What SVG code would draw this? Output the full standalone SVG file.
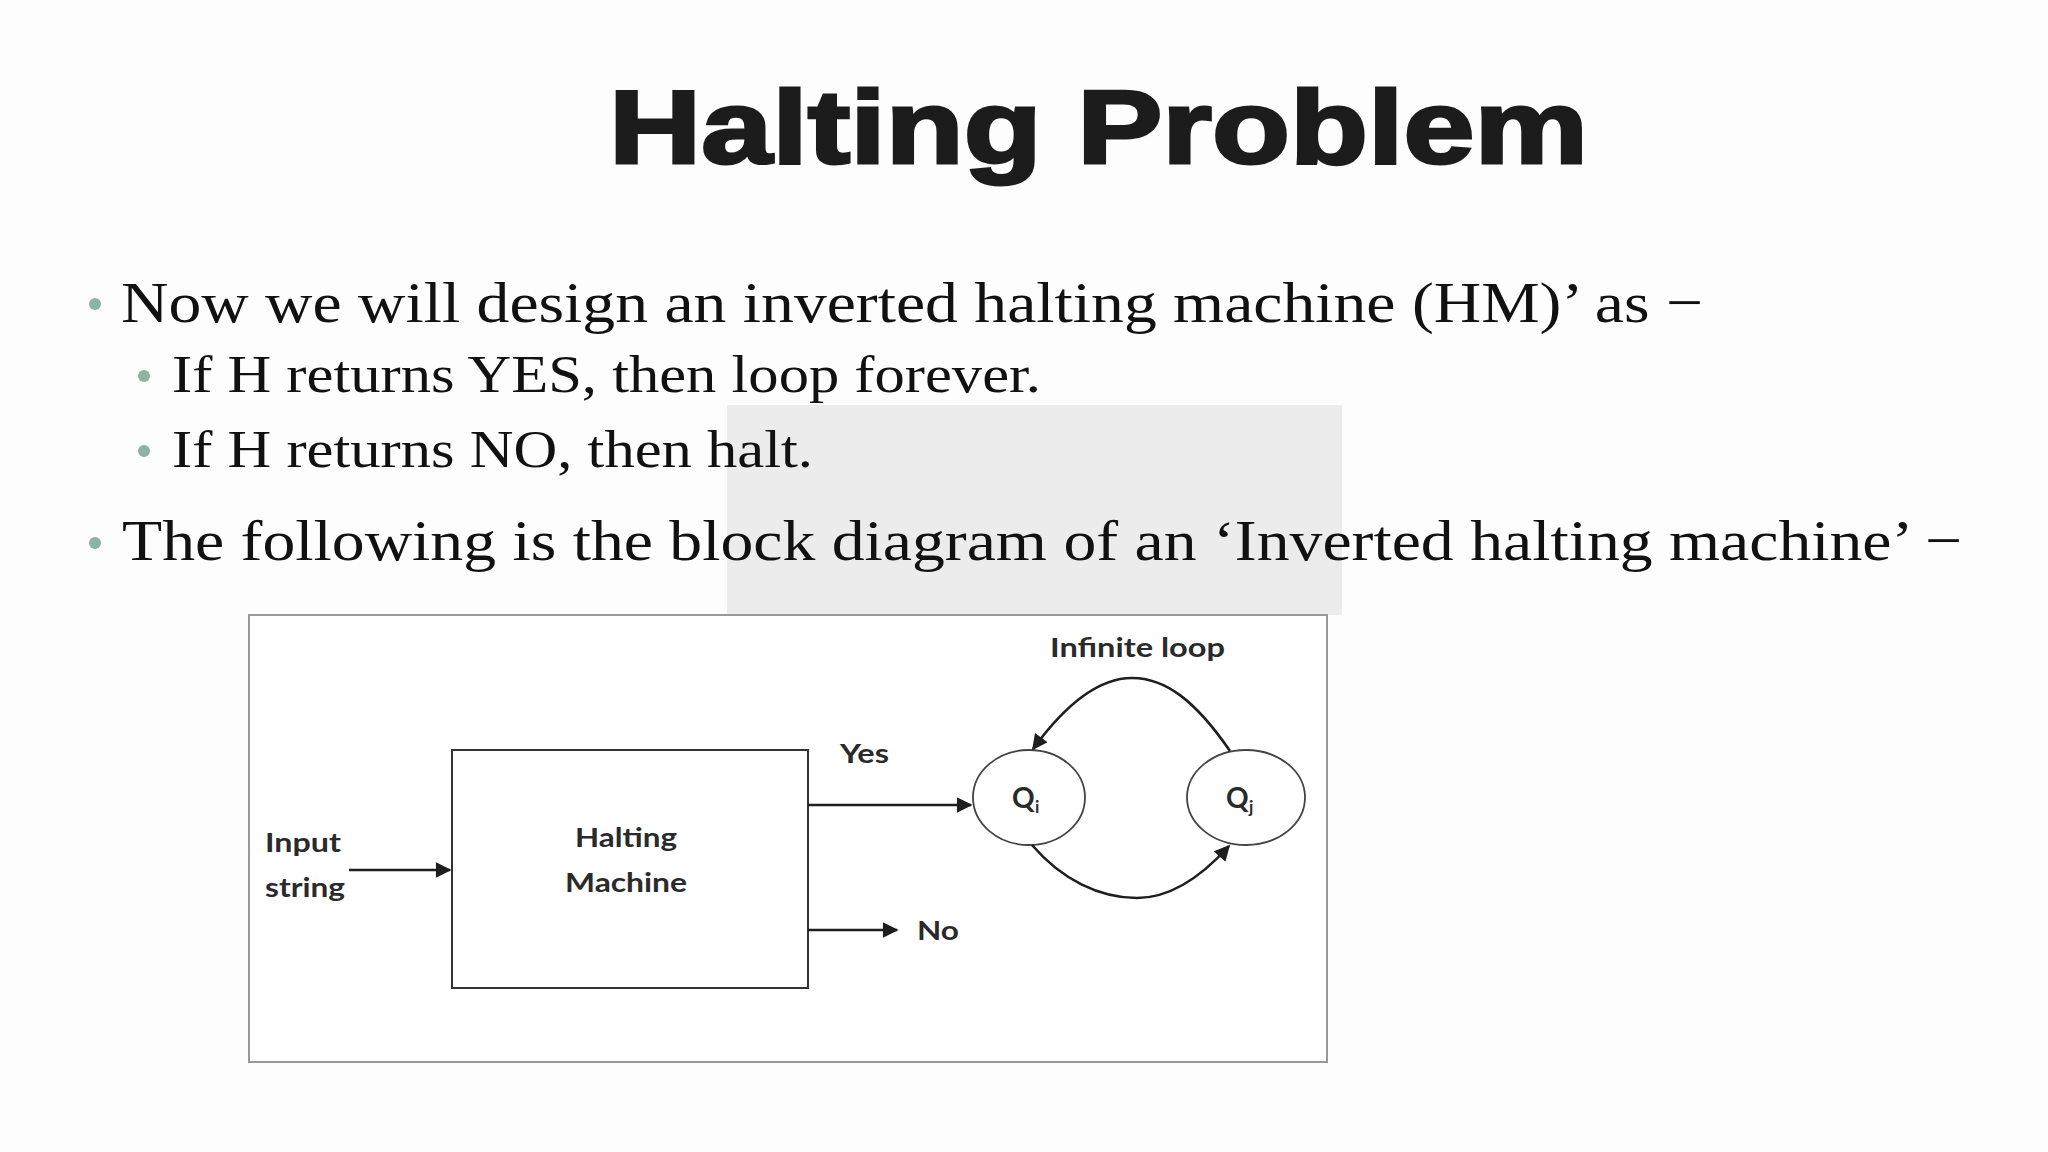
<svg xmlns="http://www.w3.org/2000/svg" width="2048" height="1152" viewBox="0 0 2048 1152">
<style>
.title{font-family:"Liberation Sans",Arial,sans-serif;font-weight:bold;font-size:103px;fill:#1c1c1c;stroke:#1c1c1c;stroke-width:3px}
.b1{font-family:"Liberation Serif","Times New Roman",serif;font-size:58px;fill:#111}
.b2{font-family:"Liberation Serif","Times New Roman",serif;font-size:53px;fill:#111}
.dot{fill:#8fb3a3}
.lbl{font-family:Lato,"Open Sans","Liberation Sans",sans-serif;font-weight:bold;font-size:26px;fill:#2a2a2a}
.q{font-family:Lato,"Open Sans","Liberation Sans",sans-serif;font-weight:bold;font-size:28px;fill:#2a2a2a}
.sub{font-family:Lato,"Open Sans","Liberation Sans",sans-serif;font-weight:bold;font-size:17px;fill:#2a2a2a}
.box{fill:#fff;stroke:#333;stroke-width:2}
.node{fill:#fff;stroke:#444;stroke-width:1.8}
.conn{fill:none;stroke:#1e1e1e;stroke-width:2.6}
</style>
<defs>
<marker id="ah" viewBox="0 0 10 10" refX="9" refY="5" markerWidth="6.5" markerHeight="6" orient="auto" markerUnits="strokeWidth">
<path d="M0,0 L10,5 L0,10 z" fill="#1e1e1e"/>
</marker>
</defs>
<rect x="0" y="0" width="2048" height="1152" fill="#fdfdfd"/>
<rect x="727" y="405" width="615" height="210" fill="#ececec"/>

<g id="title">
<text class="title" x="609" y="163" textLength="979" lengthAdjust="spacingAndGlyphs">Halting Problem</text>
</g>

<g id="bullets">
<circle class="dot" cx="95" cy="304" r="6"/>
<text class="b1" x="121" y="322" textLength="1582" lengthAdjust="spacingAndGlyphs">Now we will design an inverted halting machine (HM)’ as −</text>
<circle class="dot" cx="144" cy="376" r="6"/>
<text class="b2" x="172" y="392" textLength="869" lengthAdjust="spacingAndGlyphs">If H returns YES, then loop forever.</text>
<circle class="dot" cx="144" cy="451" r="6"/>
<text class="b2" x="172" y="467" textLength="641" lengthAdjust="spacingAndGlyphs">If H returns NO, then halt.</text>
<circle class="dot" cx="95" cy="543" r="6"/>
<text class="b1" x="122" y="560" textLength="1840" lengthAdjust="spacingAndGlyphs">The following is the block diagram of an ‘Inverted halting machine’ −</text>
</g>

<g id="frame">
<rect x="249" y="615" width="1078" height="447" fill="#fff" stroke="#999" stroke-width="2"/>
</g>

<g id="halting-machine">
<rect class="box" x="452" y="750" width="356" height="238"/>
<text class="lbl" x="575" y="847" textLength="102" lengthAdjust="spacingAndGlyphs">Halting</text>
<text class="lbl" x="565" y="892" textLength="122" lengthAdjust="spacingAndGlyphs">Machine</text>
</g>

<g id="input-label">
<text class="lbl" x="265" y="852" textLength="76" lengthAdjust="spacingAndGlyphs">Input</text>
<text class="lbl" x="265" y="897" textLength="80" lengthAdjust="spacingAndGlyphs">string</text>
</g>

<g id="node-qi">
<ellipse class="node" cx="1029" cy="797.5" rx="56" ry="47.5"/>
<text class="q" x="1012" y="808">Q</text>
<text class="sub" x="1035" y="813">i</text>
</g>

<g id="node-qj">
<ellipse class="node" cx="1246" cy="797.5" rx="59" ry="47.5"/>
<text class="q" x="1226" y="808">Q</text>
<text class="sub" x="1249" y="813">j</text>
</g>

<g id="labels">
<text class="lbl" x="840" y="763" textLength="49" lengthAdjust="spacingAndGlyphs">Yes</text>
<text class="lbl" x="917" y="940" textLength="42" lengthAdjust="spacingAndGlyphs">No</text>
<text class="lbl" x="1050" y="657" textLength="175" lengthAdjust="spacingAndGlyphs">Infinite loop</text>
</g>

<g id="connectors">
<line class="conn" x1="349" y1="870" x2="450" y2="870" marker-end="url(#ah)"/>
<line class="conn" x1="808" y1="805" x2="971" y2="805" marker-end="url(#ah)"/>
<line class="conn" x1="808" y1="930" x2="897" y2="930" marker-end="url(#ah)"/>
<path class="conn" d="M1230,751 C1195,700 1165,678 1132,678 C1098,678 1065,705 1033,749" marker-end="url(#ah)"/>
<path class="conn" d="M1032,845 C1062,880 1100,898 1137,898 C1172,898 1202,876 1229,846" marker-end="url(#ah)"/>
</g>
</svg>
